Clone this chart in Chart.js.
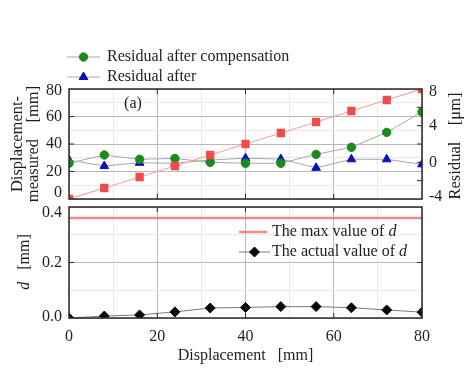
<!DOCTYPE html>
<html>
<head>
<meta charset="utf-8">
<script src="https://cdn.jsdelivr.net/npm/chart.js@4.4.1/dist/chart.umd.min.js"></script>
<style>
  html, body { margin: 0; padding: 0; background: #fff; }
  #wrap { position: relative; width: 474px; height: 372px; background: #fff; }
  #wrap canvas { position: absolute; left: 0; top: 0; }
</style>
</head>
<body>
<div id="wrap">
  <canvas id="chart-top" width="474" height="372"></canvas>
  <canvas id="chart-bottom" width="474" height="372"></canvas>
</div>
<script>
// ── DATA ──────────────────────────────────
const positions = [0, 8, 16, 24, 32, 40, 48, 56, 64, 72, 80];
const measured = [0, 8, 16, 24, 32, 40, 48, 56, 64, 72, 80];
const residualCompensated = [-0.1, 0.8, 0.33, 0.43, 0.0, -0.1, -0.1, 0.87, 1.64, 3.27, 5.5];
const residualAfter = [0.25, -0.4, -0.05, -0.1, 0.25, 0.45, 0.36, -0.6, 0.33, 0.33, -0.22];
const dMaxValue = 0.36;
const dActual = [0.0, 0.007, 0.011, 0.022, 0.036, 0.038, 0.041, 0.041, 0.037, 0.029, 0.021];

const xTicks = [0, 20, 40, 60, 80];
const leftTicks = [0, 20, 40, 60, 80];
const rightTicks = [-4, 0, 4, 8];
const dTicks = [0.0, 0.2, 0.4];

// ── STYLE ─────────────────────────────────
const SERIF = "'Liberation Serif', 'Times New Roman', serif";
const TEXT = '#1e1e1e';
const GRID_MAJOR = '#b8b8b8';
const GRID_MINOR = '#e9e9e9';

const pts = (ys) => positions.map((x, i) => ({ x, y: ys[i] }));
const isTick = (list, v) => list.some(t => Math.abs(t - v) < 1e-6);

// draw a line of text made of normal / italic parts
function richText(ctx, parts, x, y, size, align) {
  let total = 0;
  parts.forEach(p => {
    ctx.font = (p.italic ? 'italic ' : '') + size + 'px ' + SERIF;
    p.w = ctx.measureText(p.t).width;
    total += p.w;
  });
  let cx = align === 'center' ? x - total / 2 : x;
  parts.forEach(p => {
    ctx.font = (p.italic ? 'italic ' : '') + size + 'px ' + SERIF;
    ctx.fillText(p.t, cx, y);
    cx += p.w;
  });
}

// frame round the plot, inward tick marks, y tick labels, legend and free labels
const decor = {
  id: 'decor',
  afterDatasetsDraw(chart, args, opts) {
    const { ctx, chartArea: a } = chart;
    ctx.save();
    ctx.strokeStyle = '#2a2a2a';
    ctx.lineWidth = 1.5;
    ctx.strokeRect(a.left, a.top, a.right - a.left, a.bottom - a.top);

    ctx.lineWidth = 1;
    ctx.beginPath();
    (opts.xMarks || []).forEach(v => {
      const px = chart.scales.x.getPixelForValue(v);
      ctx.moveTo(px, a.top); ctx.lineTo(px, a.top + 5);
      ctx.moveTo(px, a.bottom); ctx.lineTo(px, a.bottom - 5);
    });
    (opts.leftMarks || []).forEach(v => {
      const py = chart.scales.y.getPixelForValue(v);
      ctx.moveTo(a.left, py); ctx.lineTo(a.left + 5, py);
      if (!opts.rightMarks) { ctx.moveTo(a.right, py); ctx.lineTo(a.right - 5, py); }
    });
    (opts.rightMarks || []).forEach(v => {
      const py = chart.scales.y1.getPixelForValue(v);
      ctx.moveTo(a.right, py); ctx.lineTo(a.right - 5, py);
    });
    ctx.stroke();

    // y tick labels (edge labels nudged inside, as in the figure)
    ctx.fillStyle = TEXT;
    ctx.textBaseline = 'middle';
    ctx.font = '16px ' + SERIF;
    (opts.yLabels || []).forEach(ax => {
      const scale = chart.scales[ax.scale];
      ctx.textAlign = ax.side === 'left' ? 'right' : 'left';
      const tx = ax.side === 'left' ? a.left - 7 : a.right + 7;
      ax.values.forEach(v => {
        const py = scale.getPixelForValue(v) + ((ax.shift || {})[v] || 0);
        ctx.fillText(ax.fmt ? ax.fmt(v) : String(v), tx, py);
      });
    });

    // legend
    (opts.legend || []).forEach(item => {
      const ds = chart.data.datasets[item.dataset];
      ctx.strokeStyle = ds.borderColor;
      ctx.lineWidth = ds.borderWidth;
      ctx.beginPath();
      ctx.moveTo(item.x0, item.y); ctx.lineTo(item.x1, item.y);
      ctx.stroke();
      if (ds.pointRadius > 0) {
        ctx.fillStyle = ds.pointBackgroundColor;
        ctx.strokeStyle = ds.pointBorderColor;
        ctx.lineWidth = 1;
        Chart.helpers.drawPoint(ctx, { pointStyle: ds.pointStyle, radius: ds.pointRadius, rotation: 0, borderWidth: 1 }, (item.x0 + item.x1) / 2, item.y);
      }
      ctx.fillStyle = TEXT;
      ctx.textAlign = 'left';
      richText(ctx, item.parts, item.tx, item.y, item.size || 16, 'left');
    });

    // free labels (rotated titles etc.)
    (opts.labels || []).forEach(l => {
      ctx.save();
      ctx.translate(l.x, l.y);
      ctx.rotate(l.rot || 0);
      ctx.fillStyle = TEXT;
      ctx.textAlign = 'left';
      ctx.textBaseline = 'middle';
      richText(ctx, l.parts, 0, 0, l.size || 16, 'center');
      ctx.restore();
    });
    ctx.restore();
  }
};

const tickFont = { family: SERIF, size: 16 };

// ── TOP CHART ─────────────────────────────
new Chart(document.getElementById('chart-top'), {
  type: 'line',
  data: {
    datasets: [
      {
        label: 'Displacement-measured',
        data: pts(measured),
        yAxisID: 'y',
        borderColor: '#f5a5a5',
        borderWidth: 1.2,
        pointStyle: 'rect',
        pointRadius: 5,
        pointBackgroundColor: '#ef4d4d',
        pointBorderColor: '#ef4d4d',
        clip: 0
      },
      {
        label: 'Residual after compensation',
        data: pts(residualCompensated),
        yAxisID: 'y1',
        borderColor: '#a8a8a8',
        borderWidth: 1,
        pointStyle: 'circle',
        pointRadius: 4.2,
        pointBackgroundColor: '#1d8a1d',
        pointBorderColor: '#1d8a1d',
        clip: 0
      },
      {
        label: 'Residual after',
        data: pts(residualAfter),
        yAxisID: 'y1',
        borderColor: '#a8a8a8',
        borderWidth: 1,
        pointStyle: 'triangle',
        pointRadius: 5,
        pointBackgroundColor: '#0a0fc0',
        pointBorderColor: '#0a0fc0',
        clip: 0
      }
    ]
  },
  options: {
    responsive: false,
    animation: false,
    devicePixelRatio: 1,
    layout: { padding: { top: 89, bottom: 173, left: 0, right: 0 } },
    plugins: {
      legend: { display: false },
      tooltip: { enabled: false },
      decor: {
        xMarks: [20, 40, 60],
        leftMarks: [20, 40, 60],
        rightMarks: [-2, 0, 2, 4, 6],
        yLabels: [
          { scale: 'y', side: 'left', values: leftTicks, shift: { 0: -6, 80: 2 } },
          { scale: 'y1', side: 'right', values: rightTicks, shift: { 8: 3, '-4': -2 } }
        ],
        legend: [
          { dataset: 1, x0: 67, x1: 100, y: 57, tx: 107, parts: [{ t: 'Residual after compensation' }] },
          { dataset: 2, x0: 67, x1: 100, y: 77, tx: 107, parts: [{ t: 'Residual after' }] }
        ],
        labels: [
          { x: 133, y: 104, parts: [{ t: '(a)' }] },
          { x: 456, y: 146, rot: -Math.PI / 2, size: 16.5, parts: [{ t: 'Residual    [\u03bcm]' }] }
        ]
      }
    },
    scales: {
      x: {
        type: 'linear',
        min: 0, max: 80,
        ticks: { display: false, stepSize: 10 },
        grid: { drawTicks: false, color: c => isTick(xTicks, c.tick.value) ? GRID_MAJOR : GRID_MINOR },
        border: { display: false },
        afterFit: s => { s.height = 0; }
      },
      y: {
        position: 'left',
        min: 0, max: 80,
        ticks: { display: false, stepSize: 10 },
        grid: { drawTicks: false, color: c => isTick(leftTicks, c.tick.value) ? GRID_MAJOR : GRID_MINOR },
        border: { display: false },
        title: {
          display: true,
          text: ['Displacement-', 'measured    [mm]'],
          color: TEXT,
          font: { family: SERIF, size: 16.5, lineHeight: 1.0 },
          padding: { top: 9, bottom: 0 }
        },
        afterFit: s => { s.width = 69; }
      },
      y1: {
        position: 'right',
        min: -4, max: 8,
        ticks: { display: false, stepSize: 4 },
        grid: { display: false, drawTicks: false },
        border: { display: false },
        afterFit: s => { s.width = 52; }
      }
    }
  },
  plugins: [decor]
});

// ── BOTTOM CHART ──────────────────────────
new Chart(document.getElementById('chart-bottom'), {
  type: 'line',
  data: {
    datasets: [
      {
        label: 'The max value of d',
        data: [{ x: 0, y: dMaxValue }, { x: 80, y: dMaxValue }],
        borderColor: '#f08a8a',
        borderWidth: 2.5,
        pointRadius: 0,
        clip: 0
      },
      {
        label: 'The actual value of d',
        data: pts(dActual),
        borderColor: '#7a7a7a',
        borderWidth: 1,
        pointStyle: 'rectRot',
        pointRadius: 5,
        pointBackgroundColor: '#0a0a0a',
        pointBorderColor: '#0a0a0a',
        clip: 0
      }
    ]
  },
  options: {
    responsive: false,
    animation: false,
    devicePixelRatio: 1,
    layout: { padding: { top: 207, bottom: 0, left: 0, right: 52 } },
    plugins: {
      legend: { display: false },
      tooltip: { enabled: false },
      decor: {
        xMarks: [20, 40, 60],
        leftMarks: [0.2],
        yLabels: [
          { scale: 'y', side: 'left', values: dTicks, fmt: v => v.toFixed(1), shift: { 0.4: 6, 0: -1 } }
        ],
        legend: [
          { dataset: 0, x0: 239, x1: 267, y: 232, tx: 272, parts: [{ t: 'The max value of ' }, { t: 'd', italic: true }] },
          { dataset: 1, x0: 239, x1: 270, y: 252, tx: 272, parts: [{ t: 'The actual value of ' }, { t: 'd', italic: true }] }
        ],
        labels: [
          { x: 25, y: 262, rot: -Math.PI / 2, parts: [{ t: 'd', italic: true }, { t: '   [mm]' }] }
        ]
      }
    },
    scales: {
      x: {
        type: 'linear',
        min: 0, max: 80,
        ticks: {
          stepSize: 10, padding: 9, color: TEXT, font: tickFont, maxRotation: 0, autoSkip: false,
          callback: v => isTick(xTicks, v) ? String(v) : ''
        },
        grid: { drawTicks: false, color: c => isTick(xTicks, c.tick.value) ? GRID_MAJOR : GRID_MINOR },
        border: { display: false },
        title: {
          display: true,
          text: 'Displacement   [mm]',
          color: TEXT,
          font: { family: SERIF, size: 16 },
          padding: { top: 0, bottom: 7 }
        },
        afterFit: s => { s.height = 54; }
      },
      y: {
        position: 'left',
        min: 0, max: 0.4,
        ticks: { display: false, stepSize: 0.1 },
        grid: { drawTicks: false, color: c => isTick(dTicks, c.tick.value) ? GRID_MAJOR : GRID_MINOR },
        border: { display: false },
        afterFit: s => { s.width = 69; }
      }
    }
  },
  plugins: [decor]
});
</script>
</body>
</html>
